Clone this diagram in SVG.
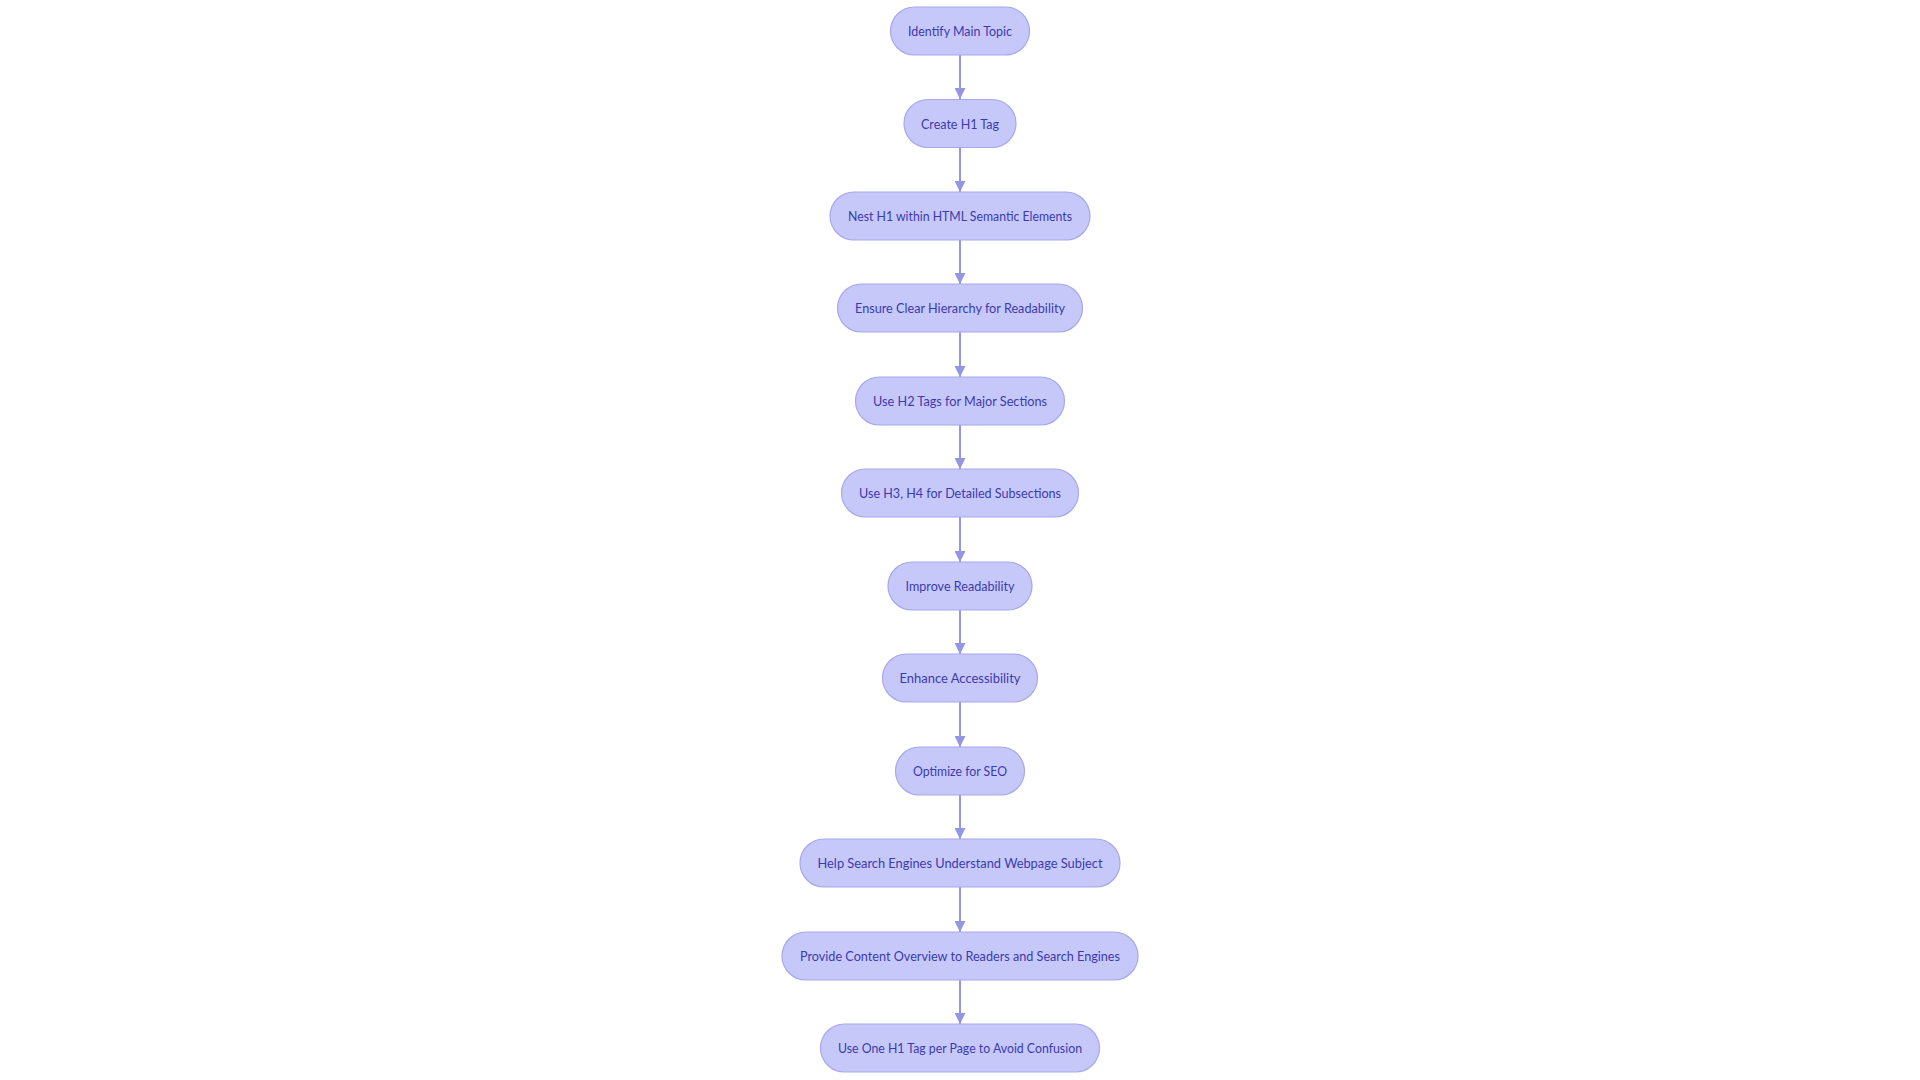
<svg xmlns="http://www.w3.org/2000/svg" width="1920" height="1080" viewBox="0 0 1920 1080">
<defs>
<style>
.node rect{fill:#c7c8fa;stroke:#a6a7ec;stroke-width:1.2}
.node text{font-family:Lato,"Noto Sans",sans-serif;font-size:13.5px;fill:#3b3bad;text-anchor:middle;dominant-baseline:central}
.edge{stroke:#9495e4;stroke-width:2;fill:none}
</style>
<marker id="arrow" viewBox="0 0 10 10" refX="10" refY="5" markerWidth="11" markerHeight="11" markerUnits="userSpaceOnUse" orient="auto">
<path d="M0,0 L10,5 L0,10 z" fill="#9495e4"/>
</marker>
</defs>
<rect width="1920" height="1080" fill="#ffffff"/>
<g id="connectors">
<line class="edge" x1="960" y1="55" x2="960" y2="99" marker-end="url(#arrow)"/>
<line class="edge" x1="960" y1="147.5" x2="960" y2="192" marker-end="url(#arrow)"/>
<line class="edge" x1="960" y1="240" x2="960" y2="284" marker-end="url(#arrow)"/>
<line class="edge" x1="960" y1="332" x2="960" y2="377" marker-end="url(#arrow)"/>
<line class="edge" x1="960" y1="425" x2="960" y2="469" marker-end="url(#arrow)"/>
<line class="edge" x1="960" y1="517" x2="960" y2="562" marker-end="url(#arrow)"/>
<line class="edge" x1="960" y1="610" x2="960" y2="654" marker-end="url(#arrow)"/>
<line class="edge" x1="960" y1="702" x2="960" y2="747" marker-end="url(#arrow)"/>
<line class="edge" x1="960" y1="795" x2="960" y2="839" marker-end="url(#arrow)"/>
<line class="edge" x1="960" y1="887" x2="960" y2="932" marker-end="url(#arrow)"/>
<line class="edge" x1="960" y1="980" x2="960" y2="1024" marker-end="url(#arrow)"/>
</g>
<g id="n1" class="node"><rect x="890.5" y="7" width="139" height="48" rx="24"/><text x="960" y="31" textLength="104" lengthAdjust="spacingAndGlyphs">Identify Main Topic</text></g>
<g id="n2" class="node"><rect x="904" y="99.5" width="112" height="48" rx="24"/><text x="960" y="123.5" textLength="78" lengthAdjust="spacingAndGlyphs">Create H1 Tag</text></g>
<g id="n3" class="node"><rect x="830" y="192" width="260" height="48" rx="24"/><text x="960" y="216" textLength="224" lengthAdjust="spacingAndGlyphs">Nest H1 within HTML Semantic Elements</text></g>
<g id="n4" class="node"><rect x="837.5" y="284" width="245" height="48" rx="24"/><text x="960" y="308" textLength="210" lengthAdjust="spacingAndGlyphs">Ensure Clear Hierarchy for Readability</text></g>
<g id="n5" class="node"><rect x="855.5" y="377" width="209" height="48" rx="24"/><text x="960" y="401" textLength="174" lengthAdjust="spacingAndGlyphs">Use H2 Tags for Major Sections</text></g>
<g id="n6" class="node"><rect x="841.5" y="469" width="237" height="48" rx="24"/><text x="960" y="493" textLength="202" lengthAdjust="spacingAndGlyphs">Use H3, H4 for Detailed Subsections</text></g>
<g id="n7" class="node"><rect x="888" y="562" width="144" height="48" rx="24"/><text x="960" y="586" textLength="109" lengthAdjust="spacingAndGlyphs">Improve Readability</text></g>
<g id="n8" class="node"><rect x="882.5" y="654" width="155" height="48" rx="24"/><text x="960" y="678" textLength="121" lengthAdjust="spacingAndGlyphs">Enhance Accessibility</text></g>
<g id="n9" class="node"><rect x="895.5" y="747" width="129" height="48" rx="24"/><text x="960" y="771" textLength="94" lengthAdjust="spacingAndGlyphs">Optimize for SEO</text></g>
<g id="n10" class="node"><rect x="800" y="839" width="320" height="48" rx="24"/><text x="960" y="863" textLength="285" lengthAdjust="spacingAndGlyphs">Help Search Engines Understand Webpage Subject</text></g>
<g id="n11" class="node"><rect x="782" y="932" width="356" height="48" rx="24"/><text x="960" y="956" textLength="320" lengthAdjust="spacingAndGlyphs">Provide Content Overview to Readers and Search Engines</text></g>
<g id="n12" class="node"><rect x="820.5" y="1024" width="279" height="48" rx="24"/><text x="960" y="1048" textLength="244" lengthAdjust="spacingAndGlyphs">Use One H1 Tag per Page to Avoid Confusion</text></g>
</svg>
